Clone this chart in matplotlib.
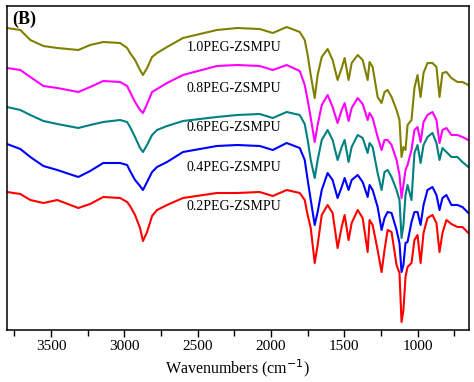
import numpy as np
import matplotlib.pyplot as plt
from matplotlib.ticker import MultipleLocator

# wavenumbers (cm-1) shared by all spectra
wavenumber = [3800, 3709, 3641, 3552, 3457, 3314, 3233, 3144, 3029, 2981,
              2961, 2927, 2893, 2873, 2845, 2811, 2777, 2709, 2600, 2369,
              2230, 2077, 1988, 1893, 1804, 1770, 1750, 1729, 1702, 1682,
              1654, 1614, 1580, 1546, 1518, 1498, 1471, 1450, 1409, 1375,
              1341, 1328, 1307, 1273, 1246, 1226, 1205, 1178, 1144, 1124,
              1110, 1097, 1083, 1069, 1042, 1022, 1001, 980, 960, 933,
              899, 872, 851, 831, 804, 770, 729, 695, 654]

# offset absorbance-like depth (a.u., larger = lower on the plot)
peg02 = [192, 194, 200, 203, 200, 208, 204, 197, 198, 202,
         206, 215, 228, 241, 232, 216, 210, 205, 198, 193,
         193, 192, 196, 190, 193, 200, 215, 228, 263, 245,
         215, 205, 213, 248, 227, 215, 240, 223, 210, 218,
         252, 220, 225, 250, 272, 250, 230, 232, 265, 273,
         322, 310, 277, 267, 263, 240, 235, 263, 233, 218,
         215, 223, 252, 233, 220, 224, 227, 227, 233]
peg04 = [144, 149, 157, 166, 170, 177, 171, 163, 163, 165,
         171, 180, 186, 190, 182, 172, 167, 162, 152, 146,
         145, 146, 150, 143, 148, 160, 180, 200, 225, 212,
         190, 173, 180, 198, 187, 178, 190, 180, 175, 182,
         197, 185, 190, 207, 230, 218, 212, 213, 230, 243,
         272, 265, 243, 242, 222, 212, 212, 225, 205, 190,
         187, 195, 210, 198, 195, 205, 205, 207, 213]
peg06 = [107, 110, 115, 121, 124, 128, 125, 122, 120, 122,
         127, 137, 148, 152, 145, 135, 130, 126, 121, 117,
         115, 114, 118, 112, 115, 124, 140, 160, 178, 160,
         140, 130, 140, 160, 147, 140, 162, 147, 135, 138,
         153, 143, 147, 173, 190, 172, 170, 177, 190, 200,
         238, 225, 195, 185, 200, 153, 145, 163, 145, 137,
         133, 143, 160, 148, 152, 157, 157, 162, 167]
peg08 = [68, 70, 77, 86, 88, 92, 87, 81, 82, 86,
         92, 102, 110, 113, 104, 92, 89, 83, 75, 66,
         65, 66, 70, 65, 71, 85, 100, 118, 142, 125,
         105, 95, 107, 123, 110, 103, 121, 108, 98, 104,
         120, 113, 118, 137, 150, 140, 140, 145, 160, 175,
         198, 185, 170, 165, 150, 130, 127, 142, 122, 115,
         112, 120, 143, 130, 128, 135, 135, 137, 140]
peg10 = [28, 30, 40, 46, 48, 50, 45, 42, 43, 48,
         53, 60, 70, 75, 68, 57, 53, 47, 38, 30,
         28, 29, 33, 27, 32, 40, 55, 75, 98, 75,
         57, 49, 60, 80, 68, 58, 80, 63, 55, 60,
         80, 62, 67, 97, 103, 92, 90, 97, 110, 120,
         157, 147, 150, 125, 120, 88, 75, 97, 73, 63,
         63, 67, 97, 73, 72, 78, 82, 82, 85]

series = [peg10, peg08, peg06, peg04, peg02]
names = ['1.0PEG-ZSMPU', '0.8PEG-ZSMPU', '0.6PEG-ZSMPU', '0.4PEG-ZSMPU', '0.2PEG-ZSMPU']
colors = ['#808000', '#ff00ff', '#008080', '#0000ff', '#ff0000']
label_y = [47, 88, 127, 167, 206]

plt.rcParams['font.family'] = ['Liberation Serif', 'DejaVu Serif']

fig = plt.figure(figsize=(4.74, 3.82), dpi=100)
ax = fig.add_axes([7/474, 1 - 330/382, 462/474, 324/382])

for ys, name, c, ly in zip(series, names, colors, label_y):
    ax.plot(wavenumber, ys, color=c, lw=1.5)
    ax.text(2575, ly, name, fontsize=10, va='center', ha='left')

ax.set_xlim(3800, 650)
ax.set_ylim(330, 6)
ax.xaxis.set_major_locator(MultipleLocator(500))
ax.xaxis.set_minor_locator(MultipleLocator(250))
ax.tick_params(axis='x', which='major', direction='out', length=5, width=1, labelsize=11, pad=2)
ax.tick_params(axis='x', which='minor', direction='out', length=4, width=1)
ax.set_yticks([])
for s in ax.spines.values():
    s.set_linewidth(1.1)
ax.set_xlabel('Wavenumbers (cm$^{-1}$)', fontsize=11.5, labelpad=3)
ax.text(0.012, 0.985, '(B)', transform=ax.transAxes, fontsize=13, fontweight='bold',
        va='top', ha='left')

fig.savefig('out.png', dpi=100)
